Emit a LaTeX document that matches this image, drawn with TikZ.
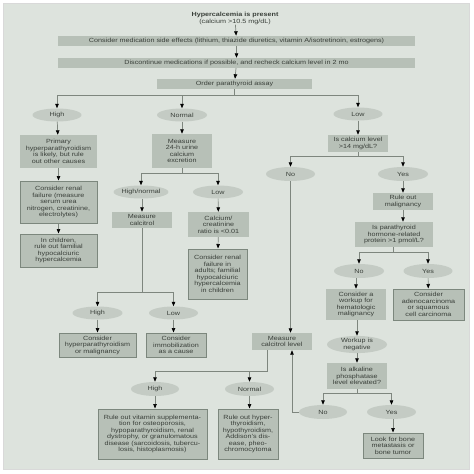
\documentclass[tikz,border=0pt]{standalone}
\usepackage{fontspec}
\setmainfont{Liberation Sans}[FakeStretch=1.2]
\usetikzlibrary{shapes.geometric,arrows.meta}

\definecolor{panelbg}{HTML}{DDE3DD}
\definecolor{boxfill}{HTML}{B7C0B7}
\definecolor{ovalfill}{HTML}{C4CBC4}
\definecolor{edgegray}{HTML}{7C877D}
\definecolor{linegray}{HTML}{7E867E}
\definecolor{txtgray}{HTML}{3A403A}

\begin{document}
\begin{tikzpicture}[x=1pt,y=-1pt,
    txt/.style={font=\fontsize{6}{6.5}\selectfont, text=txtgray, align=center, inner sep=0pt},
    proc/.style={txt, rectangle, fill=boxfill},
    endbox/.style={proc, draw=edgegray, line width=1pt},
    oval/.style={txt, ellipse, fill=ovalfill},
    line/.style={draw=linegray, line width=0.7pt},
    arr/.style={line, -{Triangle[length=4.5pt,width=3.5pt,color=black]}}]

    \useasboundingbox (0,0) rectangle (474,474);
    \fill[white] (0,0) rectangle (474,474);
    \filldraw[fill=panelbg, draw=black!15] (3,3) rectangle (469,469);

    % top of the chart
    \node[txt] (start) at (235,18.5) {\textbf{Hypercalcemia is present}\\(calcium >10.5 mg/dL)};
    \node[proc, minimum width=357pt, minimum height=10pt] (meds) at (236.5,41) {Consider medication side effects (lithium, thiazide diuretics, vitamin A/isotretinoin, estrogens)};
    \node[proc, minimum width=357pt, minimum height=10pt] (stop) at (236.5,63) {Discontinue medications if possible, and recheck calcium level in 2 mo};
    \node[proc, minimum width=155pt, minimum height=10pt] (pth) at (234.5,84) {Order parathyroid assay};
    \draw[arr] (start) -- (meds);
    \draw[arr] (meds) -- (stop);
    \draw[arr] (stop) -- (pth);

    \node[oval, minimum width=49pt, minimum height=13pt] (hi1) at (57,115) {High};
    \node[oval, minimum width=50pt, minimum height=13pt] (norm1) at (182,115) {Normal};
    \node[oval, minimum width=49pt, minimum height=13pt] (lo1) at (358,114) {Low};
    \coordinate (j1) at (235,95);
    \draw[line] (pth.south) -- (pth.south |- j1);
    \draw[line] (hi1 |- j1) -- (lo1 |- j1);
    \foreach \n in {hi1,norm1,lo1} \draw[arr] (\n |- j1) -- (\n);

    % left column
    \node[proc, minimum width=77pt, minimum height=33pt] (primary) at (58.5,151.5) {Primary\\hyperparathyroidism\\is likely, but rule\\out other causes};
    \node[endbox, minimum width=77pt, minimum height=42pt] (renal1) at (58.5,202) {Consider renal\\failure (measure\\serum urea\\nitrogen, creatinine,\\electrolytes)};
    \node[endbox, minimum width=77pt, minimum height=33pt] (child) at (58.5,250.5) {In children,\\rule out familial\\hypocalciuric\\hypercalcemia};
    \draw[arr] (hi1) -- (primary);
    \draw[arr] (primary) -- (renal1);
    \draw[arr] (renal1) -- (child);

    % normal branch
    \node[proc, minimum width=60pt, minimum height=34pt] (urine) at (182,151) {Measure\\24-h urine\\calcium\\excretion};
    \draw[arr] (norm1) -- (urine);
    \node[oval, minimum width=54pt, minimum height=13pt] (hn) at (141,192) {High/normal};
    \node[oval, minimum width=50pt, minimum height=13pt] (lo2) at (218,192) {Low};
    \coordinate (j2) at (182,173);
    \draw[line] (urine) -- (j2);
    \draw[line] (hn |- j2) -- (lo2 |- j2);
    \foreach \n in {hn,lo2} \draw[arr] (\n |- j2) -- (\n);

    \node[proc, minimum width=60pt, minimum height=16pt] (calc1) at (142,220) {Measure\\calcitrol};
    \node[proc, minimum width=61pt, minimum height=25pt] (ratio) at (218.5,224.5) {Calcium/\\creatinine\\ratio is <0.01};
    \node[endbox, minimum width=59pt, minimum height=50pt] (renal2) at (217.5,274) {Consider renal\\failure in\\adults; familial\\hypocalciuric\\hypercalcemia\\in children};
    \draw[arr] (hn.south -| calc1) -- (calc1);
    \draw[arr] (lo2) -- (ratio);
    \draw[arr] (ratio) -- (renal2);

    \node[oval, minimum width=50pt, minimum height=13pt] (hi3) at (97.5,313) {High};
    \node[oval, minimum width=49pt, minimum height=13pt] (lo3) at (173.5,313) {Low};
    \coordinate (j3) at (142,292);
    \draw[line] (calc1) -- (j3);
    \draw[line] (hi3 |- j3) -- (lo3 |- j3);
    \foreach \n in {hi3,lo3} \draw[arr] (\n |- j3) -- (\n);
    \node[endbox, minimum width=77pt, minimum height=24pt] (hyper) at (97.5,345) {Consider\\hyperparathyroidism\\or malignancy};
    \node[endbox, minimum width=60pt, minimum height=24pt] (immob) at (176,345) {Consider\\immobilization\\as a cause};
    \draw[arr] (hi3) -- (hyper);
    \draw[arr] (lo3) -- (immob.north -| lo3);

    % low branch
    \node[proc, minimum width=60pt, minimum height=17pt] (q14) at (358,143.5) {Is calcium level\\>14 mg/dL?};
    \draw[arr] (lo1) -- (q14);
    \node[oval, minimum width=49pt, minimum height=14pt] (no2) at (290.5,174) {No};
    \node[oval, minimum width=50pt, minimum height=14pt] (yes2) at (403,174) {Yes};
    \coordinate (j4) at (358,156);
    \draw[line] (q14) -- (j4);
    \draw[line] (no2 |- j4) -- (yes2 |- j4);
    \foreach \n in {no2,yes2} \draw[arr] (\n |- j4) -- (\n);

    \node[proc, minimum width=60pt, minimum height=17pt] (rulemal) at (403,201.5) {Rule out\\malignancy};
    \node[proc, minimum width=78pt, minimum height=25pt] (pthrp) at (394,234.5) {Is parathyroid\\hormone-related\\protein >1 pmol/L?};
    \draw[arr] (yes2) -- (rulemal);
    \draw[arr] (rulemal) -- (pthrp.north -| rulemal);

    \node[oval, minimum width=50pt, minimum height=14pt] (no3) at (359,271) {No};
    \node[oval, minimum width=49pt, minimum height=14pt] (yes3) at (428,271) {Yes};
    \coordinate (j5) at (393,252);
    \draw[line] (pthrp.south -| j5) -- (j5);
    \draw[line] (no3 |- j5) -- (yes3 |- j5);
    \foreach \n in {no3,yes3} \draw[arr] (\n |- j5) -- (\n);

    \node[proc, minimum width=60pt, minimum height=31pt] (hema) at (356,304.5) {Consider a\\workup for\\hematologic\\malignancy};
    \node[endbox, minimum width=71pt, minimum height=31pt] (adeno) at (428.5,304.5) {Consider\\adenocarcinoma\\or squamous\\cell carcinoma};
    \draw[arr] (no3.south -| hema) -- (hema);
    \draw[arr] (yes3) -- (adeno);

    \node[oval, minimum width=60pt, minimum height=16pt] (neg) at (357,344.5) {Workup is\\negative};
    \node[proc, minimum width=60pt, minimum height=26pt] (alk) at (357,376) {Is alkaline\\phosphatase\\level elevated?};
    \draw[arr] (hema.south -| neg) -- (neg);
    \draw[arr] (neg) -- (alk);

    \node[oval, minimum width=48pt, minimum height=14pt] (no4) at (323,412) {No};
    \node[oval, minimum width=49pt, minimum height=14pt] (yes4) at (391.5,412) {Yes};
    \coordinate (j6) at (357,393);
    \draw[line] (alk) -- (j6);
    \draw[line] (no4 |- j6) -- (yes4 |- j6);
    \foreach \n in {no4,yes4} \draw[arr] (\n |- j6) -- (\n);
    \node[endbox, minimum width=60pt, minimum height=25pt] (bone) at (393,445.5) {Look for bone\\metastasis or\\bone tumor};
    \draw[arr] (yes4.south -| bone) -- (bone);

    % calcitrol level
    \node[proc, minimum width=60pt, minimum height=17pt] (calc2) at (282,341.5) {Measure\\calcitrol level};
    \coordinate (back) at (292,412);
    \draw[arr] (no2) -- (no2 |- calc2.north);
    \draw[arr] (no4.west) -- (back) -- (back |- calc2.south);

    \node[oval, minimum width=48pt, minimum height=14pt] (hi4) at (155,389) {High};
    \node[oval, minimum width=49pt, minimum height=14pt] (norm4) at (249.5,389) {Normal};
    \coordinate (j7) at (267,371);
    \draw[line] (j7 |- calc2.south) -- (j7) -- (hi4 |- j7);
    \foreach \n in {hi4,norm4} \draw[arr] (\n |- j7) -- (\n);

    \node[endbox, minimum width=109pt, minimum height=50pt] (vit) at (152.5,434) {Rule out vitamin supplementa-\\tion for osteoporosis,\\hypoparathyroidism, renal\\dystrophy, or granulomatous\\disease (sarcoidosis, tubercu-\\losis, histoplasmosis)};
    \node[endbox, minimum width=60pt, minimum height=50pt] (hypo) at (248,434) {Rule out hyper-\\thyroidism,\\hypothyroidism,\\Addison's dis-\\ease, pheo-\\chromocytoma};
    \draw[arr] (hi4.south -| 155,0) -- (vit.north -| 155,0);
    \draw[arr] (norm4) -- (hypo.north -| norm4);
\end{tikzpicture}
\end{document}
